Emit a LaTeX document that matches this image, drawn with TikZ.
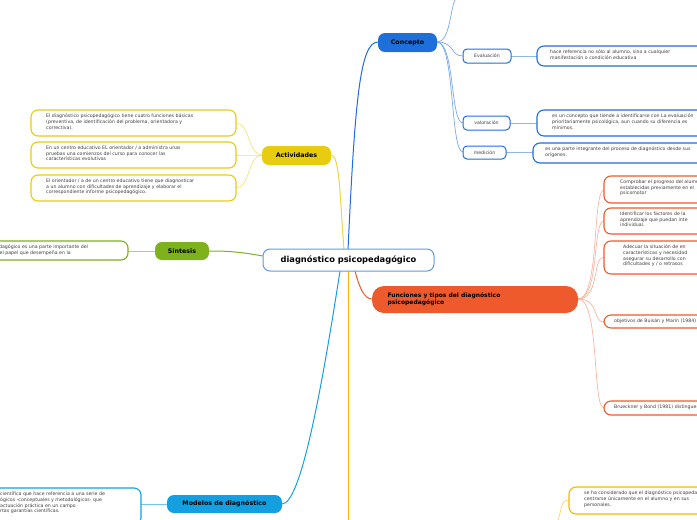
\documentclass[tikz,border=0pt]{standalone}
\usepackage{fontspec}
\setmainfont{DejaVu Sans}
\begin{document}
\begin{tikzpicture}[x=1pt,y=-1pt,
 txt/.style={font=\fontsize{4.7}{5.6}\selectfont,text=black!75,align=left,anchor=north west,inner sep=0pt},
 leaf/.style={draw=#1,line width=1.1pt,rounded corners=7pt,fill=white},
 sub/.style={draw=#1,line width=1pt,rounded corners=4pt,fill=white},
 main/.style={rounded corners=7pt,font=\bfseries\fontsize{6.3}{7}\selectfont}]
\useasboundingbox (0,0) rectangle (697,520);
\clip (0,0) rectangle (697,520);
\definecolor{cb}{HTML}{1E6FD9}\definecolor{cy}{HTML}{E8CC10}\definecolor{cg}{HTML}{7DB21C}
\definecolor{co}{HTML}{EE5A2B}\definecolor{cmo}{HTML}{14A0E0}\definecolor{cyo}{HTML}{F5B800}
% connectors
\coordinate (c) at (348,260);
\draw[cb,line width=1pt] (348,250) .. controls (355,100) and (360,42) .. (378,42);
\draw[cy!80,line width=1pt] (344,250) .. controls (340,200) and (340,155) .. (331,155);
\draw[cg,line width=1pt] (263,256) .. controls (240,252) and (230,251) .. (209,251);
\draw[cmo,line width=1pt] (340,271) .. controls (320,400) and (300,504) .. (282,504);
\draw[co,line width=1pt] (355,271) .. controls (360,290) and (365,299) .. (372,299);
\draw[cyo,line width=1pt] (348,271) -- (348,520);
% concept branches
\draw[cb!60,line width=.7pt] (437,42) .. controls (450,42) and (450,10) .. (455,0);
\foreach \y in {56,123,152}{\draw[cb!60,line width=.7pt] (437,42) .. controls (455,42) and (450,\y) .. (463,\y);}
\draw[cb!50,line width=.7pt] (511,56)--(537,56) (510,123)--(537,123) (506,152)--(533,152);
% actividades branches
\foreach \y in {123,155,188}{\draw[cy!60,line width=.6pt] (262,155) .. controls (248,155) and (250,\y) .. (236,\y);}
\draw[cg!60,line width=.7pt] (155,251)--(128,251);
\draw[cmo!60,line width=.7pt] (167,504)--(141,504);
% funciones branches
\foreach \y in {190,221,257,322,408}{\draw[co!50,line width=.6pt] (578,299) .. controls (600,299) and (592,\y) .. (604,\y);}
\draw[cyo!60,line width=.7pt] (569,500) .. controls (560,500) and (562,510) .. (558,520);
% main nodes
\node[main,draw=cb!70,line width=1pt,fill=white,minimum width=171pt,minimum height=22pt,font=\bfseries\fontsize{8.3}{9}\selectfont] (center) at (348.5,260) {diagnóstico psicopedagógico};
\node[main,fill=cb,minimum width=59pt,minimum height=19pt] (conc) at (407.5,42.5) {Concepto};
\node[main,fill=cy,minimum width=69pt,minimum height=19pt] (act) at (296.5,155.5) {Actividades};
\node[main,fill=cg,minimum width=54pt,minimum height=18pt] (sin) at (182,251) {Síntesis};
\node[main,fill=cmo,minimum width=115pt,minimum height=18pt] (mod) at (224.5,504) {Modelos de diagnóstico};
\node[main,fill=co,minimum width=206pt,minimum height=27pt,rounded corners=12pt] (fun) at (475,299.5) {};
\node[font=\bfseries\fontsize{6}{6.8}\selectfont,align=left,anchor=west] at (384,299.5) {Funciones y tipos del diagnóstico\\psicopedagógico};
% concept leaves
\draw[sub=cb] (463,49) rectangle (511,63); \node[txt,anchor=center] (ev) at (487,56) {Evaluación};
\draw[sub=cb] (463,116) rectangle (510,130); \node[txt,anchor=center] (va) at (486.5,123) {valoración};
\draw[sub=cb] (463,146) rectangle (506,159); \node[txt,anchor=center] (me) at (484.5,152.5) {medición};
\draw[leaf=cb] (537,46) rectangle (710,66); \node[txt] (t1) at (550,50) {hace referencia no sólo al alumno, sino a cualquier\\manifestación o condición educativa};
\draw[leaf=cb] (537,110) rectangle (710,136); \node[txt] (t2) at (552,114) {es un concepto que tiende a identificarse con La evaluación\\prioritariamente psicológica, aun cuando su diferencia es\\mínimos.};
\draw[leaf=cb] (533,143) rectangle (710,163); \node[txt] (t3) at (545,147) {es una parte integrante del proceso de diagnóstico desde sus\\orígenes.};
% actividades leaves
\draw[leaf=cy] (31,110) rectangle (236,136); \node[txt] (a1) at (46,114) {El diagnóstico psicopedagógico tiene cuatro funciones básicas\\(preventiva, de identificación del problema, orientadora y\\correctiva).};
\draw[leaf=cy] (31,142) rectangle (236,168); \node[txt] (a2) at (46,146) {En un centro educativo EL orientador / a administra unas\\pruebas una comienzos del curso para conocer las\\características evolutivas};
\draw[leaf=cy] (31,175) rectangle (236,201); \node[txt] (a3) at (46,179) {El orientador / a de un centro educativo tiene que diagnosticar\\a un alumno con dificultades de aprendizaje y elaborar el\\correspondiente informe psicopedagógico.};
% sintesis leaf
\draw[leaf=cg] (-20,241) rectangle (128,260); \node[txt] (s1) at (-4,245) {edagógico es una parte importante del\\r el papel que desempeña en la};
% modelos leaf
\draw[leaf=cmo] (-20,488) rectangle (141,525); \node[txt] (m1) at (0,492) {científica que hace referencia a una serie de\\ógicos -conceptuales y metodológicos- que\\ actuación práctica en un campo\\rtas garantías científicas.};
% funciones leaves
\draw[leaf=co] (604,176) rectangle (710,203); \node[txt] (f1) at (620,180) {Comprobar el progreso del alumno\\establecidas previamente en el\\psicomotor};
\draw[leaf=co] (604,208) rectangle (710,234); \node[txt] (f2) at (620,212) {Identificar los factores de la\\aprendizaje que puedan inte\\individual.};
\draw[leaf=co] (604,241) rectangle (710,274); \node[txt] (f3) at (623,245) {Adecuar la situación de en\\características y necesidad\\asegurar su desarrollo con\\dificultades y / o retrasos};
\draw[leaf=co] (604,315) rectangle (710,328); \node[txt] (f4) at (614,318.5) {objetivos de Buisán y Marín (1984)};
\draw[leaf=co] (604,401) rectangle (710,415); \node[txt] (f5) at (614,404.5) {Brueckner y Bond (1981) distinguen};
% bottom leaf
\draw[leaf=cyo] (569,487) rectangle (710,514); \node[txt] (b1) at (584,491) {se ha considerado que el diagnóstico psicopedagógico\\centrarse únicamente en el alumno y en sus\\personales.};
\end{tikzpicture}
\end{document}
